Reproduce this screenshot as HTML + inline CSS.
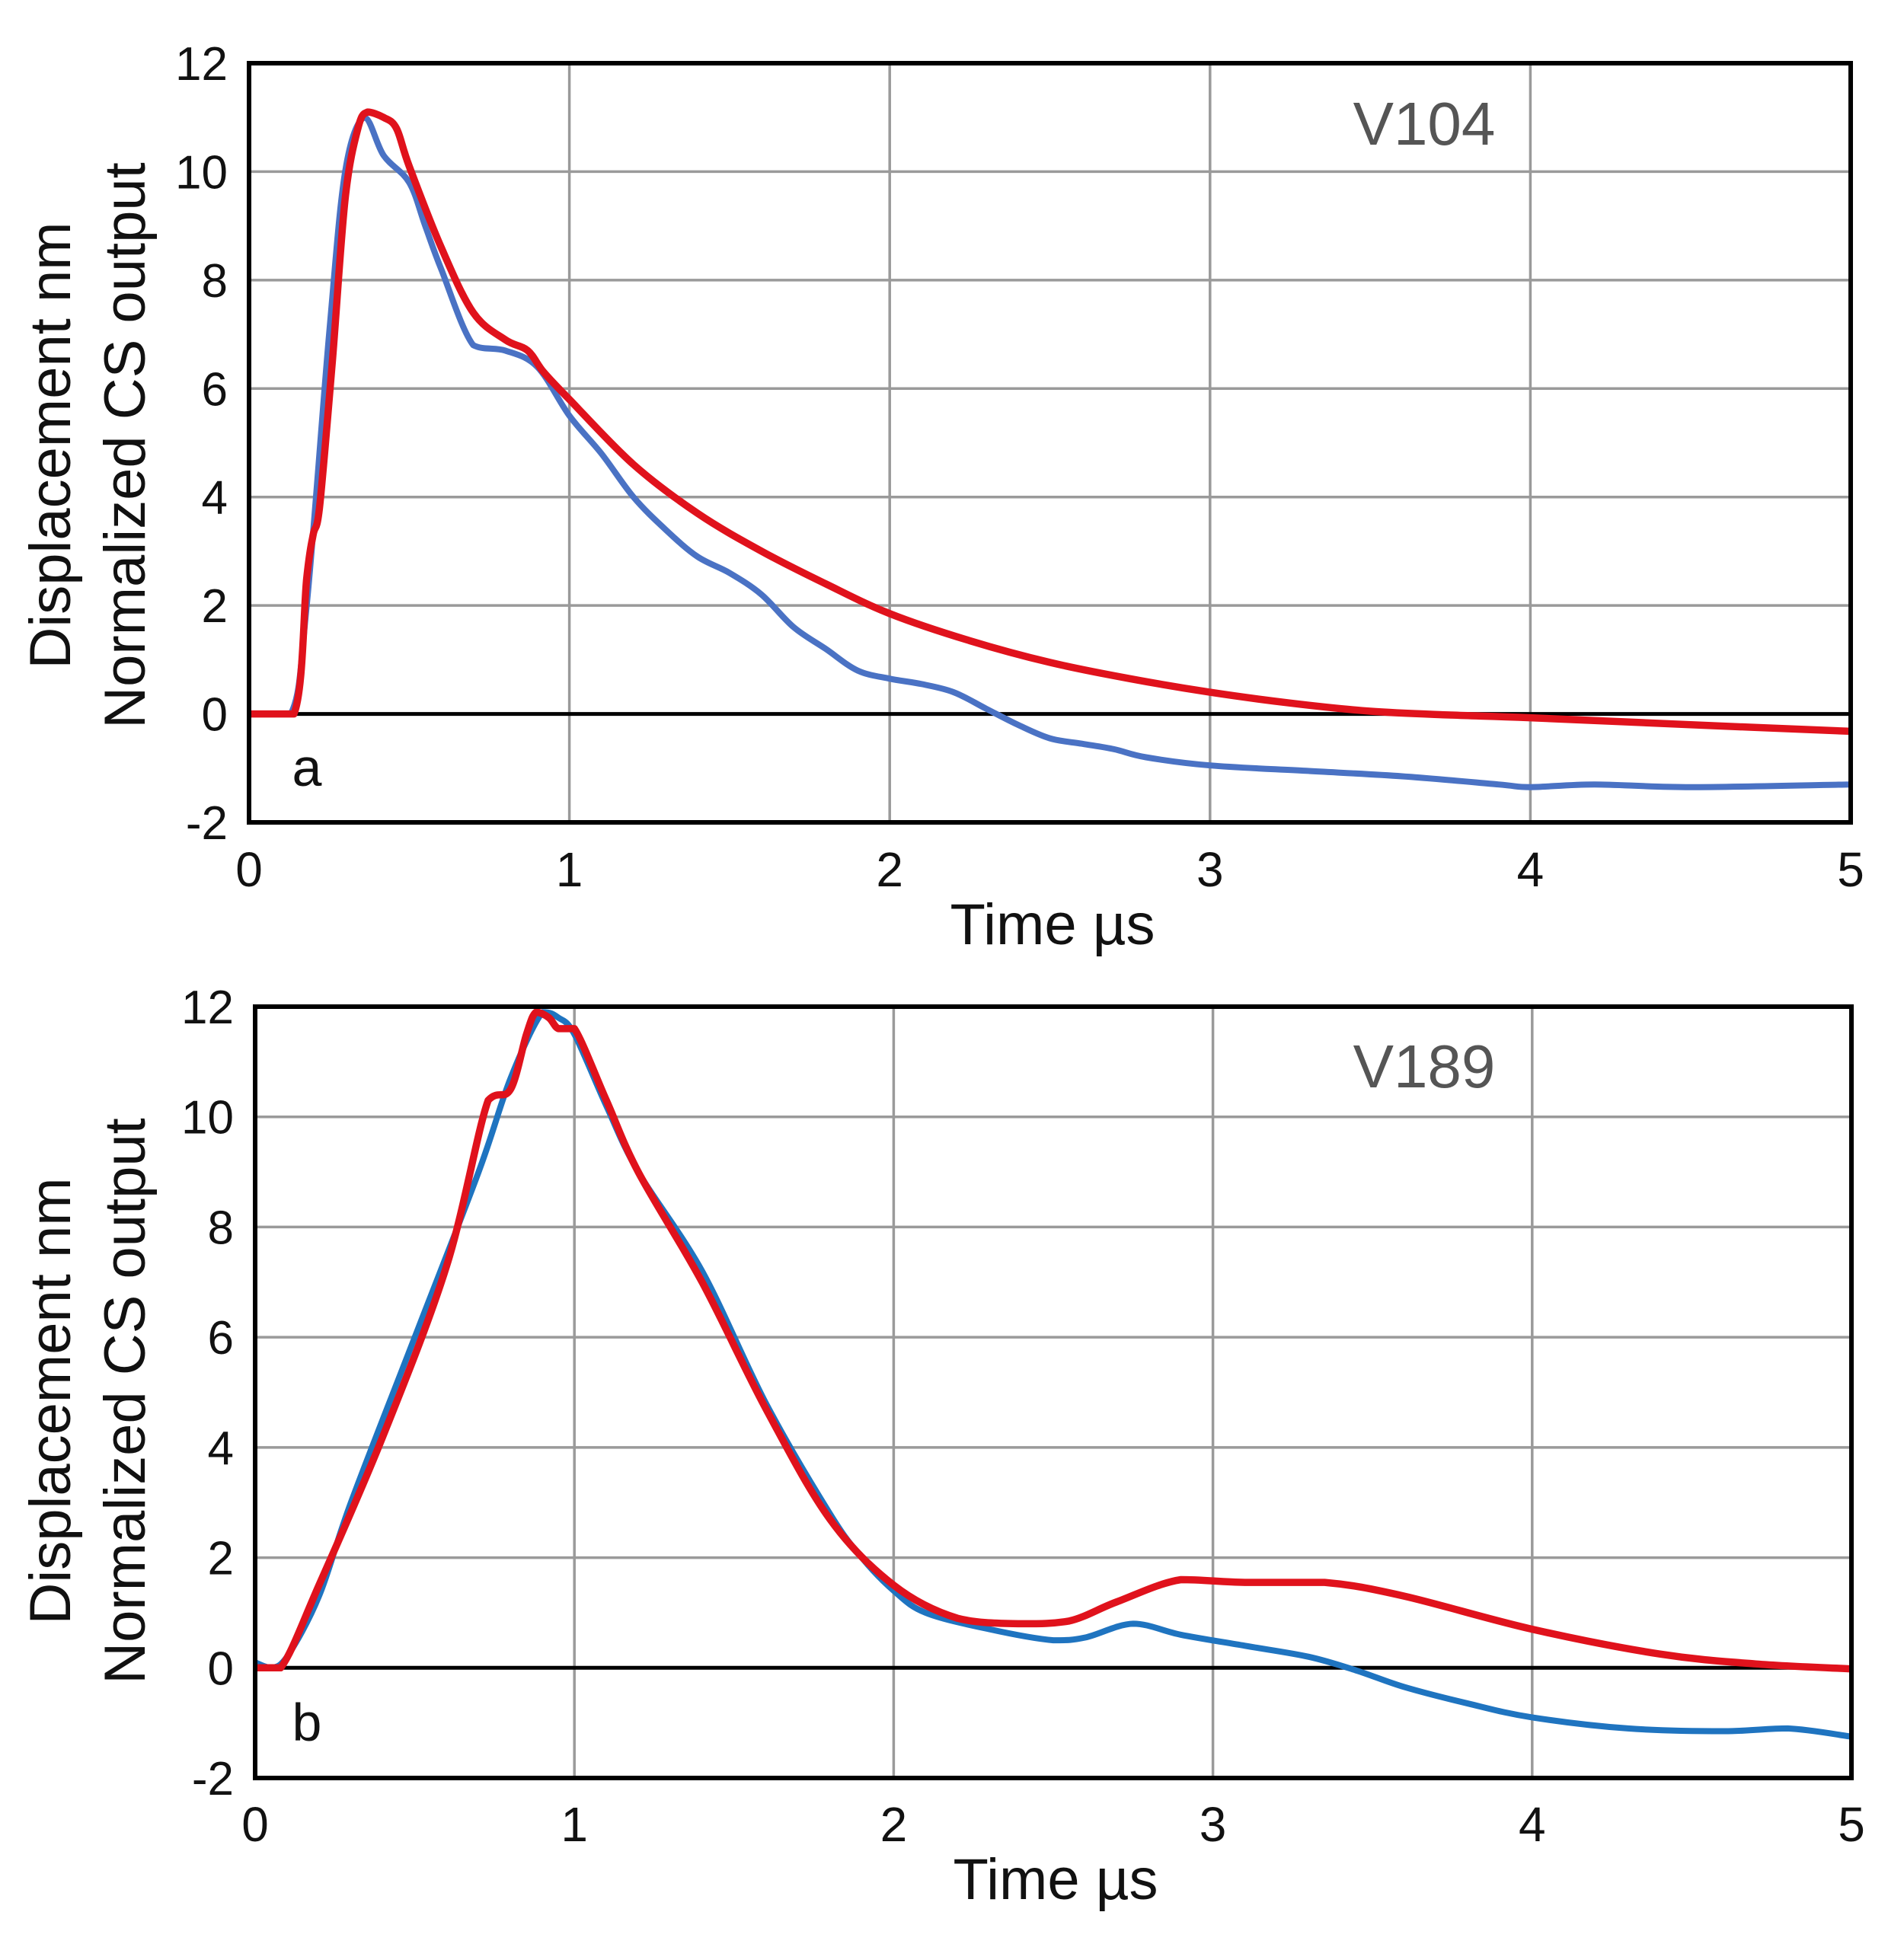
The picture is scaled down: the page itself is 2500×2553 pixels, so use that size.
<!DOCTYPE html>
<html><head><meta charset="utf-8"><style>
html,body{margin:0;padding:0;background:#fff;}
svg{display:block;}
</style></head><body>
<svg id="s" xmlns="http://www.w3.org/2000/svg" width="2500" height="2553" viewBox="0 0 2500 2553">
<rect width="2500" height="2553" fill="#fff"/>
<g id="g"></g>
</svg>
<script>
const NS="http://www.w3.org/2000/svg";
const g=document.getElementById('g');
function el(t,a,txt){const e=document.createElementNS(NS,t);for(const k in a)e.setAttribute(k,a[k]);if(txt!==undefined)e.textContent=txt;g.appendChild(e);return e;}
function cl(v,a,b){const lo=Math.min(a,b),hi=Math.max(a,b);return Math.max(lo,Math.min(hi,v));}
function path(pts,X,Y){
  const P=pts.map(p=>[X(p[0]),Y(p[1])]);
  let d='M'+P[0][0].toFixed(1)+','+P[0][1].toFixed(1);
  for(let i=0;i<P.length-1;i++){
    const p0=P[Math.max(0,i-1)],p1=P[i],p2=P[i+1],p3=P[Math.min(P.length-1,i+2)];
    const c1=[p1[0]+(p2[0]-p0[0])/6,cl(p1[1]+(p2[1]-p0[1])/6,p1[1],p2[1])];
    const c2=[p2[0]-(p3[0]-p1[0])/6,cl(p2[1]-(p3[1]-p1[1])/6,p1[1],p2[1])];
    d+='C'+c1[0].toFixed(1)+','+c1[1].toFixed(1)+' '+c2[0].toFixed(1)+','+c2[1].toFixed(1)+' '+p2[0].toFixed(1)+','+p2[1].toFixed(1);
  }
  return d;
}
function chart(c){
  const X=v=>c.l+(c.r-c.l)*v/5, Y=v=>c.b-(c.b-c.t)*(v+2)/14;
  for(let i=1;i<5;i++) el('line',{x1:X(i),x2:X(i),y1:c.t,y2:c.b,stroke:'#9a9a9a','stroke-width':3.5});
  for(let v=2;v<12;v+=2) el('line',{x1:c.l,x2:c.r,y1:Y(v),y2:Y(v),stroke:'#9a9a9a','stroke-width':3.5});
  el('line',{x1:c.l,x2:c.r,y1:Y(0),y2:Y(0),stroke:'#000','stroke-width':5});
  el('path',{d:path(c.blue,X,Y),fill:'none',stroke:c.bc,'stroke-width':8,'stroke-linejoin':'round'});
  el('path',{d:path(c.red,X,Y),fill:'none',stroke:'#e0121c','stroke-width':9.5,'stroke-linejoin':'round'});
  el('rect',{x:c.l,y:c.t,width:c.r-c.l,height:c.b-c.t,fill:'none',stroke:'#000','stroke-width':6});
  const ff='"Liberation Sans Narrow","Liberation Sans",sans-serif';
  for(let v=-2;v<=12;v+=2) el('text',{x:c.l-28,y:Y(v)+22,'text-anchor':'end','font-family':ff,'font-size':62,fill:'#111'},String(v));
  for(let i=0;i<=5;i++) el('text',{x:X(i),y:c.tickY,'text-anchor':'middle','font-family':ff,'font-size':64,fill:'#111'},String(i));
  el('text',{x:c.timeX,y:c.timeY,'text-anchor':'middle','font-family':ff,'font-size':76,fill:'#111'},'Time  µs');
  el('text',{x:0,y:0,'text-anchor':'middle','font-family':'"Liberation Sans",sans-serif','font-size':76,fill:'#111',transform:`translate(92,${c.ly}) rotate(-90)`},'Displacement  nm');
  el('text',{x:0,y:0,'text-anchor':'middle','font-family':'"Liberation Sans",sans-serif','font-size':76,fill:'#111',transform:`translate(190,${c.ly}) rotate(-90)`},'Normalized CS output');
  el('text',{x:1870,y:c.vY,'text-anchor':'middle','font-family':ff,'font-size':80,fill:'#555'},c.name);
  el('text',{x:403,y:c.aY,'text-anchor':'middle','font-family':ff,'font-size':70,fill:'#111'},c.letter);
}
chart({l:327,r:2430,t:83,b:1080,tickY:1164,timeX:1382,timeY:1240,ly:585,vY:190,aY:1032,name:'V104',letter:'a',bc:'#4a72c4',
blue:[[0,0],[0.13,0],[0.18,2],[0.25,7],[0.3,10],[0.36,11],[0.42,10.3],[0.5,9.8],[0.55,9],[0.6,8.2],[0.7,6.8],[0.8,6.7],[0.9,6.4],[1.0,5.5],[1.1,4.8],[1.2,4.0],[1.3,3.4],[1.4,2.9],[1.5,2.6],[1.6,2.2],[1.7,1.6],[1.8,1.2],[1.9,0.8],[2.0,0.65],[2.1,0.55],[2.2,0.4],[2.3,0.1],[2.4,-0.2],[2.5,-0.45],[2.6,-0.55],[2.7,-0.65],[2.8,-0.8],[3,-0.95],[3.3,-1.05],[3.6,-1.15],[3.9,-1.3],[4.0,-1.35],[4.2,-1.3],[4.5,-1.35],[5,-1.3]],
red:[[0,0],[0.14,0],[0.18,2.5],[0.2,3.3],[0.22,3.8],[0.26,6.5],[0.3,9.5],[0.34,10.8],[0.37,11.1],[0.42,11],[0.46,10.8],[0.5,10.1],[0.6,8.6],[0.7,7.4],[0.8,6.9],[0.87,6.7],[0.92,6.3],[1.0,5.8],[1.2,4.6],[1.4,3.7],[1.6,3.0],[1.8,2.4],[2,1.85],[2.25,1.35],[2.5,0.95],[2.75,0.65],[3,0.4],[3.25,0.2],[3.5,0.05],[3.75,-0.02],[4,-0.07],[4.5,-0.2],[5,-0.32]]});
chart({l:335,r:2431,t:1322,b:2335,tickY:2418,timeX:1386,timeY:2494,ly:1840,vY:1428,aY:2286,name:'V189',letter:'b',bc:'#1f74c0',
blue:[[0,0.1],[0.05,0],[0.1,0.2],[0.2,1.3],[0.3,3],[0.5,6],[0.7,9],[0.8,10.7],[0.9,11.9],[0.95,11.8],[1.0,11.5],[1.1,10.2],[1.2,9],[1.4,7.2],[1.6,4.8],[1.8,2.8],[1.9,2.0],[2.0,1.4],[2.1,1.0],[2.3,0.7],[2.5,0.5],[2.6,0.55],[2.75,0.8],[2.9,0.6],[3.1,0.4],[3.3,0.2],[3.45,-0.05],[3.6,-0.35],[3.8,-0.65],[4,-0.9],[4.3,-1.1],[4.6,-1.15],[4.8,-1.1],[5,-1.25]],
red:[[0,0],[0.08,0],[0.2,1.5],[0.4,4.2],[0.6,7.3],[0.73,10.3],[0.8,10.5],[0.85,11.5],[0.88,11.9],[0.92,11.8],[0.95,11.6],[1.0,11.6],[1.1,10.3],[1.2,9],[1.4,7],[1.6,4.7],[1.8,2.7],[2,1.5],[2.2,0.9],[2.4,0.8],[2.55,0.85],[2.7,1.2],[2.9,1.6],[3.1,1.55],[3.35,1.55],[3.6,1.3],[4,0.7],[4.4,0.25],[4.7,0.07],[5,-0.02]]});
</script>
</body></html>
